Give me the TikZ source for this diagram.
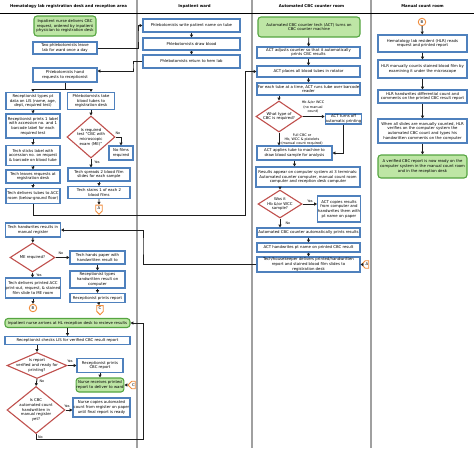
\documentclass[tikz,border=0pt]{standalone}
\usepackage{fontspec}
\setmainfont{DejaVu Sans}
\usetikzlibrary{shapes.geometric,shapes.symbols,arrows.meta,calc}
\definecolor{boxblue}{RGB}{79,129,189}
\definecolor{gfill}{RGB}{190,230,165}
\definecolor{gdraw}{RGB}{85,165,65}
\definecolor{dred}{RGB}{192,80,77}
\definecolor{conn}{RGB}{240,140,60}
\definecolor{lanec}{RGB}{160,160,160}
\definecolor{arrowc}{RGB}{30,30,30}
\newcommand{\fs}{\fontsize{3.85}{4.7}\selectfont}
\newcommand{\fl}{\fontsize{3.4}{4.1}\selectfont}
\begin{document}
\begin{tikzpicture}[x=1pt,y=-1pt,
 sz/.style 2 args={minimum width=#1pt, minimum height=#2pt},
 box/.style={draw=boxblue, line width=1.1pt, fill=white, align=center, font=\fs, inner sep=0.4pt},
 gbox/.style={draw=gdraw, line width=1.1pt, fill=gfill, rounded corners=3pt, align=center, font=\fs, inner sep=0.4pt},
 dec/.style={diamond, draw=dred, line width=1.1pt, fill=white, inner sep=0pt},
 dtx/.style={align=center, font=\fs, inner sep=0pt},
 arr/.style={draw=arrowc, line width=0.9pt, -{Triangle[length=2.8pt,width=3pt]}},
 ln/.style={draw=arrowc, line width=0.9pt},
 lbl/.style={font=\fl, inner sep=0.3pt, align=center},
 circ/.style={circle, draw=conn, line width=0.9pt, fill=white, minimum size=7.5pt, inner sep=0pt, font=\fs},
 offpg/.style={signal, draw=conn, line width=0.9pt, fill=white, minimum width=6.5pt, minimum height=7.5pt, inner sep=0.4pt, font=\fs},
 hdr/.style={font=\fontsize{3.9}{4.6}\selectfont\bfseries},
 laneln/.style={draw=lanec, line width=1.3pt},
 hdrln/.style={draw=black, line width=0.7pt}
]
\useasboundingbox (0,0) rectangle (474,448);
% lanes and header
\draw[laneln] (137,0) -- (137,448);
\draw[laneln] (252,0) -- (252,448);
\draw[laneln] (371,0) -- (371,448);
\draw[hdrln] (0,13) -- (474,13);
\node[hdr] (hd1) at (68.5,6) {Hematology lab registration desk and reception area};
\node[hdr] (hd2) at (194.5,6) {Inpatient ward};
\node[hdr] (hd3) at (311.5,6) {Automated CBC counter room};
\node[hdr] (hd4) at (422.5,6) {Manual count room};

% ---------- lane 1 top
\node[gbox, sz={62}{20}] (n1) at (65,26) {Inpatient nurse delivers CBC\\request, ordered by inpatient\\physician to registration desk};
\node[box, sz={64}{12}] (n2) at (65,48) {Two phlebotomists leave\\lab for ward once a day};
\node[box, sz={64}{14}] (n3) at (65,75) {Phlebotomists hand\\requests to receptionist};
\node[box, sz={54}{17}] (n4) at (33,101) {Receptionist types pt\\data on LIS (name, age,\\dept, required test)};
\node[box, sz={47}{17}] (n5) at (91,101) {Phlebotomists take\\blood tubes to\\registration desk};
\node[box, sz={54}{24}] (n6) at (33,126) {Receptionist prints 1 label\\with accession no. and 1\\barcode label for each\\required test};
\node[dec, sz={48}{42}] (d0) at (91,137) {};
\node[dtx] (d0t) at (d0) {Is required\\test "CBC with\\microscopic\\exam (ME)"};
\node[box, sz={54}{20}] (n7) at (33,155.5) {Tech sticks label with\\accession no. on request\\\& barcode on blood tube};
\node[box, sz={24}{14}] (nf) at (121,153) {No films\\required};
\node[box, sz={62}{13}] (t1) at (99,174.5) {Tech spreads 2 blood film\\slides for each sample};
\node[box, sz={54}{13}] (n8) at (33,176.5) {Tech leaves requests at\\registration desk};
\node[box, sz={62}{12}] (t2) at (99,192.5) {Tech stains 1 of each 2\\blood films};
\node[box, sz={54}{15}] (n9) at (33,196) {Tech delivers tubes to ACC\\room (below-ground floor)};
\node[offpg, signal to=south] (pA1) at (99,208) {A};

\coordinate (b0) at (65,89);
\coordinate (bl) at (33,89);
\coordinate (br) at (91,89);
\draw[ln] (n3.south) -- (b0);
\draw[ln] (bl) -- (br);
\draw[arr] (bl) -- (n4.north);
\draw[arr] (br) -- (n5.north);
\draw[arr] (n4) -- (n6);
\draw[arr] (n6) -- (n7);
\draw[arr] (n7) -- (n8);
\draw[arr] (n8) -- (n9);
\draw[arr] (n5) -- (d0);
\draw[arr] (d0.east) -| (nf.north);
\node[lbl] (ld0n) at (118,133) {No};
\draw[arr] (d0.south) -- (d0.south |- t1.north);
\node[lbl] (ld0y) at (97,162) {Yes};
\draw[arr] (t1) -- (t2);
\draw[arr] (t2) -- (pA1);

% ---------- lane 2
\node[box, sz={97}{13}] (w1) at (191.5,25.5) {Phlebotomists write patient name on tube};
\node[box, sz={97}{12}] (w2) at (191.5,44) {Phlebotomists draw blood};
\node[box, sz={97}{13}] (w3) at (191.5,61.5) {Phlebotomists return to hem lab};
\draw[arr] (w1) -- (w2);
\draw[arr] (w2) -- (w3);
\coordinate (k6) at (138,36);
\draw[arr] (n2.east) -| (k6) |- (w1.west);
\coordinate (k7) at (133,66);
\draw[arr] (w3.west) -| (k7) |- ($(n3.east)+(0,-4)$);

% ---------- lane 3
\node[gbox, sz={102}{20}] (a1) at (309,27) {Automated CBC counter tech (ACT) turns on\\CBC counter machine};
\node[box, sz={103}{11}] (a2) at (308.5,52.5) {ACT adjusts counter so that it automatically\\prints CBC results};
\node[box, sz={103}{11}] (a3) at (308.5,71.5) {ACT places all blood tubes in rotator};
\node[box, sz={103}{12}] (a4) at (308.5,89) {For each tube at a time, ACT runs tube over barcode\\reader};
\node[dec, sz={46}{31}] (d1) at (279,116.5) {};
\node[dtx] (d1t) at (d1) {What type of\\CBC is required?};
\node[box, sz={34}{10}] (a5) at (343.5,119) {ACT turns off\\automatic printing};
\node[lbl] (l1) at (313,107) {Hb \&/or WCC\\(no manual\\count)};
\node[lbl] (l2) at (302,139.5) {Full CBC or\\Hb, WCC \& platelets\\(manual count required)};
\node[box, sz={75}{14}] (a6) at (294.5,153) {ACT applies tube to machine to\\draw blood sample for analysis};
\node[box, sz={104}{20}] (a7) at (308,177) {Results appear on computer system at 3 terminals:\\Automated counter computer, manual count room\\computer and reception desk computer};
\node[dec, sz={44}{28}] (d2) at (280,204) {};
\node[dtx] (d2t) at (d2) {Was it\\Hb \&/or WCC\\sample?};
\node[box, sz={42}{26}] (a8) at (339,209) {ACT copies results\\from computer and\\handwrites them with\\pt name on paper};
\node[box, sz={103}{9}] (a9) at (308.5,232.5) {Automated CBC counter automatically prints results};
\node[box, sz={103}{9}] (a10) at (308.5,247.5) {ACT handwrites pt name on printed CBC result};
\node[box, sz={103}{15}] (a11) at (308.5,264.5) {Tech/housekeeper delivers printed/handwritten\\report and stained blood film slides to\\registration desk};
\node[offpg, signal to=west] (pA2) at (367,264.5) {A};

\draw[arr] (a1) -- (a2);
\draw[arr] (a2) -- (a3);
\draw[arr] (a3) -- (a4);
\draw[arr] (d1.north |- a4.south) -- (d1.north);
\draw[arr] (d1.east) -- (d1.east -| a5.west);
\draw[arr] (d1.south) -- (d1.south |- a6.north);
\draw[arr] (a5.south) |- (a6.east);
\draw[arr] (a6.south) -- (a6.south |- a7.north);
\draw[arr] (d2.north |- a7.south) -- (d2.north);
\draw[arr] (d2.east) -- (d2.east -| a8.west);
\node[lbl] (ld2y) at (310,201) {Yes};
\draw[arr] (d2.south) -- (d2.south |- a9.north);
\node[lbl] (ld2n) at (288,223) {No};
\draw[arr] (a9) -- (a10);
\draw[arr] (a10) -- (a11);
\draw[arr] (pA2) -- (a11.east);

% cross-lane connectors
\coordinate (k1) at (33,215);
\coordinate (k1b) at (245,215);
\draw[arr] (n9.south) -- (k1) -- (k1b) |- (a3.west);
\coordinate (k2) at (143,245);

% ---------- lane 1 middle
\node[box, sz={55}{14}] (h1) at (33,230) {Tech handwrites results in\\manual register};
\draw[arr] (a11.west) -| (k2) |- (h1.east);
\node[dec, sz={45}{29}] (d3) at (32.5,257.5) {};
\node[dtx] (d3t) at (d3) {ME required?};
\node[box, sz={55}{13}] (h2) at (97.5,257.5) {Tech hands paper with\\handwritten result to};
\node[box, sz={55}{17}] (h3) at (97.5,279.5) {Receptionist types\\handwritten result on\\computer};
\node[box, sz={55}{9}] (h4) at (97.5,298) {Receptionist prints report};
\node[box, sz={55}{20}] (h5) at (33,288) {Tech delivers printed ACC\\print-out, request, \& stained\\film slide to ME room};
\node[circ] (cB1) at (33,308) {B};
\node[offpg, signal to=south] (pC1) at (100,308.5) {C};
\draw[arr] (h1) -- (d3);
\draw[arr] (d3.east) -- (h2.west);
\node[lbl] (ld3n) at (61,253.5) {No};
\draw[arr] (d3.south) -- (d3.south |- h5.north);
\node[lbl] (ld3y) at (39,275) {Yes};
\draw[arr] (h2) -- (h3);
\draw[arr] (h3) -- (h4);
\draw[arr] (h4) -- (pC1);
\draw[arr] (h5.south -| cB1.north) -- (cB1.north);

% ---------- lane 1 bottom
\node[gbox, sz={125}{9}] (g1) at (67.5,323) {Inpatient nurse arrives at HL reception desk to recieve results};
\node[box, sz={125}{8}] (r1) at (67.5,340.5) {Receptionist checks LIS for verified CBC result report};
\node[dec, sz={60}{26}] (d4) at (37,365.5) {};
\node[dtx] (d4t) at (d4) {Is report\\verified and ready for\\printing?};
\node[box, sz={46}{14}] (r2) at (100,365.5) {Receptionist prints\\CBC report};
\node[gbox, sz={46}{14}] (g2) at (100,385) {Nurse receives printed\\report to deliver to ward};
\node[offpg, signal to=west] (pC2) at (133.5,385) {C};
\node[dec, sz={58}{47}] (d5) at (36,410) {};
\node[dtx] (d5t) at (d5) {Is CBC\\automated count\\handwritten in\\manual register\\yet?};
\node[box, sz={57}{19}] (r3) at (101.5,407.5) {Nurse copies automated\\count from register on paper\\until final report is ready};
\draw[arr] (g1) -- (r1);
\draw[arr] (r1.south -| d4.north) -- (d4.north);
\draw[arr] (d4.east) -- (r2.west);
\node[lbl] (ld4y) at (70,361.5) {Yes};
\draw[arr] (r2) -- (g2);
\draw[arr] (pC2) -- (g2.east);
\draw[arr] (d4.south) -- (d5.north);
\node[lbl] (ld4n) at (42,381) {No};
\draw[arr] (d5.east) -- (d5.east -| r3.west);
\node[lbl] (ld5y) at (67,406) {Yes};
\coordinate (k4) at (36,439);
\coordinate (k5) at (143,439);
\draw[arr] (d5.south) -- (k4) -- (k5) |- (g1.east);
\node[lbl] (ld5n) at (40.5,437) {No};

% ---------- lane 4
\node[circ] (cB2) at (422,22) {B};
\node[box, sz={89}{17}] (m1) at (422.5,43.5) {Hematology lab resident (HLR) reads\\request and printed report};
\node[box, sz={89}{18}] (m2) at (422.5,69) {HLR manually counts stained blood film by\\examining it under the microscope};
\node[box, sz={89}{13}] (m3) at (422.5,96.5) {HLR handwrites differential count and\\comments on the printed CBC result report};
\node[box, sz={89}{24}] (m4) at (422.5,131) {When all slides are manually counted, HLR\\verifies on the computer system the\\automated CBC count and types his\\handwritten comments on the computer};
\node[gbox, sz={89}{23}] (m5) at (422.5,166.5) {A verified CBC report is now ready on the\\computer system in the manual count room\\and in the reception desk};
\draw[arr] (cB2) -- (m1);
\draw[arr] (m1) -- (m2);
\draw[arr] (m2) -- (m3);
\draw[arr] (m3) -- (m4);
\draw[arr] (m4) -- (m5);
\end{tikzpicture}
\end{document}
